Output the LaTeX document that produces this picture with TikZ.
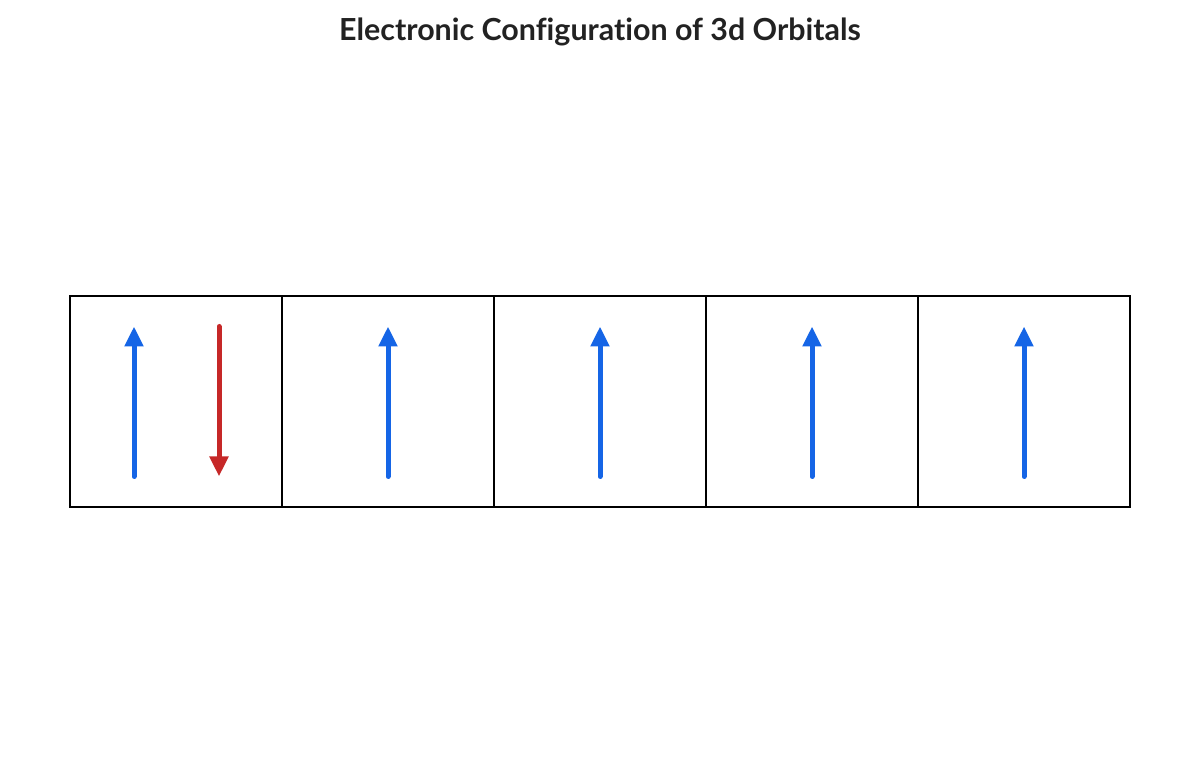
\documentclass[tikz,border=0pt]{standalone}
\usepackage{fontspec}
\setmainfont{Lato}[Ligatures=NoCommon]
\usepackage{xcolor}
\usepackage{tikz}
\usetikzlibrary{arrows.meta}
\usetikzlibrary{positioning}
\definecolor{spinblue}{HTML}{1565E6}
\definecolor{spinred}{HTML}{C62828}
\definecolor{titlegray}{HTML}{222222}
\tikzstyle{orbital} = [rectangle, draw=black, line width=1pt, outer sep=0pt,
    minimum width=106pt, minimum height=105.5pt, inner sep=0pt]
\tikzstyle{spinup} = [draw=spinblue, fill=spinblue, line width=2.5pt, line cap=round,
    -{Triangle[width=9pt,length=10pt]}]
\tikzstyle{spindown} = [draw=spinred, fill=spinred, line width=2.5pt, line cap=round,
    -{Triangle[width=9pt,length=10pt]}]

\begin{document}
\begin{tikzpicture}
    \useasboundingbox (0,0) rectangle (600pt,381.5pt);
    % Title
    \node[text=titlegray] (title) at (300pt,365.5pt) {\fontsize{15.2pt}{18pt}\selectfont\bfseries Electronic Configuration of 3d Orbitals};
    % Place nodes
    \node[orbital] (orb1) at (88pt,180.75pt) {};
    \node[orbital, right=0pt of orb1] (orb2) {};
    \node[orbital, right=0pt of orb2] (orb3) {};
    \node[orbital, right=0pt of orb3] (orb4) {};
    \node[orbital, right=0pt of orb4] (orb5) {};
    % Spin ends
    \coordinate (up1a) at ([xshift=-21pt,yshift=-37.5pt]orb1.center);
    \coordinate (up1b) at ([xshift=-21pt,yshift=37.5pt]orb1.center);
    \coordinate (dn1a) at ([xshift=21.5pt,yshift=37.5pt]orb1.center);
    \coordinate (dn1b) at ([xshift=21.5pt,yshift=-37.5pt]orb1.center);
    \foreach \i in {2,...,5} {
        \coordinate (up\i a) at ([yshift=-37.5pt]orb\i.center);
        \coordinate (up\i b) at ([yshift=37.5pt]orb\i.center);
    }
    % Draw electrons
    \path [spinup] (up1a) -- (up1b);
    \path [spindown] (dn1a) -- (dn1b);
    \foreach \i in {2,...,5}
        \path [spinup] (up\i a) -- (up\i b);
\end{tikzpicture}
\end{document}
